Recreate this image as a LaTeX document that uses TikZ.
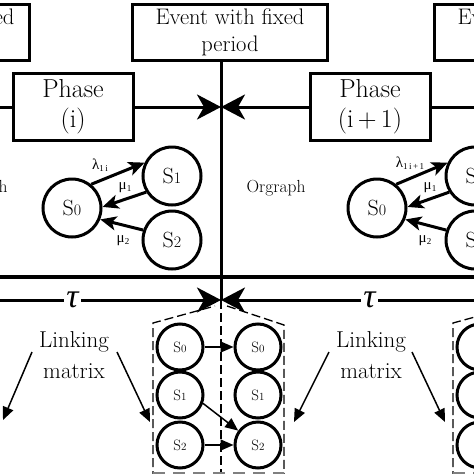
\documentclass[tikz,border=0pt]{standalone}
\usepackage{fontspec}
\newfontfamily\grk{Liberation Serif}
\usetikzlibrary{arrows.meta}
\newcommand\bigSt[1]{S{\fontsize{16}{16}\selectfont #1}}
\newcommand\smSt[1]{S{\fontsize{11}{11}\selectfont #1}}
\newcommand\lowsub[1]{\raisebox{-1.5pt}{\fontsize{9}{9}\selectfont #1}}
\begin{document}
\begin{tikzpicture}[x=1pt,y=-1pt,
  box/.style={draw,line width=3pt,inner sep=0pt,align=center},
  evbox/.style={box,minimum width=195pt,minimum height=56pt,font=\fontsize{22.5}{27}\selectfont},
  phbox/.style={box,minimum width=120pt,minimum height=67pt,font=\fontsize{26}{30}\selectfont},
  bigst/.style={draw,circle,line width=3pt,minimum size=58pt,inner sep=0pt,font=\fontsize{22}{22}\selectfont},
  smst/.style={draw,circle,line width=3pt,minimum size=46pt,inner sep=0pt,font=\fontsize{15}{15}\selectfont},
  garrow/.style={line width=3pt,-{Stealth[length=16pt,width=14pt,inset=4pt]}},
  bigarrow/.style={line width=3pt,-{Stealth[length=24pt,width=25pt,inset=7pt]}},
  thinarrow/.style={line width=1.5pt,-{Triangle[length=13pt,width=11pt]}},
  glabel/.style={inner sep=0pt,font=\grk\fontsize{15}{15}\selectfont},
  orlabel/.style={inner sep=0pt,font=\fontsize{17.5}{17.5}\selectfont},
  lmlabel/.style={inner sep=0pt,align=center,font=\fontsize{23}{31}\selectfont},
  taulabel/.style={fill=white,inner sep=2pt,font=\grk\itshape\fontsize{34}{34}\selectfont},
  mainline/.style={line width=3pt},
  sepline/.style={line width=3.5pt},
  dashbox/.style={line width=1.3pt,dash pattern=on 9pt off 4pt},
  graydash/.style={line width=3pt,gray,dash pattern=on 12pt off 8pt}
]
\useasboundingbox (0,0) rectangle (474,474);
\clip (0,0) rectangle (474,474);

% event boxes
\node[evbox] (evL) at (-68,32) {\hspace*{16pt}Event with fixed\\\hspace*{16pt}period};
\node[evbox] (ev)  at (230,32) {Event with fixed\\period};
\node[evbox] (evR) at (532,32) {Event with fixed\\period};

% phase boxes
\node[phbox] (ph1) at (73,107) {Phase\\(i)};
\node[phbox] (ph2) at (370,107) {Phase\\(i\,+\,1)};

\coordinate (v1) at (221,107);
\coordinate (v2) at (221,300);
\coordinate (vb) at (221,480);
\coordinate (hL) at (-10,107);
\coordinate (hR) at (484,107);

\draw[mainline] (v1 |- ev.south) -- (v2);
\draw[dashbox] (v2) -- (vb);
\draw[mainline] (hL) -- (ph1.west);
\draw[bigarrow] (ph1.east) -- (v1);
\draw[bigarrow] (ph2.west) -- (v1);
\draw[mainline] (ph2.east) -- (hR);

% orgraph labels
\node[orlabel] (orL) at (-22,188) {Orgraph};
\node[orlabel] (orR) at (276,188) {Orgraph};

% left graph
\node[bigst] (S0a) at (72,208) {\bigSt{0}};
\node[bigst] (S1a) at (172,176) {\bigSt{1}};
\node[bigst] (S2a) at (172,240) {\bigSt{2}};
\draw[garrow] (S0a.51) -- (S1a.154);
\draw[garrow] (S1a.212) -- (S0a.2);
\draw[garrow] (S2a.161) -- (S0a.-22);
\node[glabel] (la1) at (100,165) {λ\lowsub{1\,i}};
\node[glabel] (mu1a) at (125,188) {μ\lowsub{1}};
\node[glabel] (mu2a) at (123,241) {μ\lowsub{2}};

% right graph
\node[bigst] (S0b) at (377,208) {\bigSt{0}};
\node[bigst] (S1b) at (475,176) {\bigSt{1}};
\node[bigst] (S2b) at (475,240) {\bigSt{2}};
\draw[garrow] (S0b.51) -- (S1b.154);
\draw[garrow] (S1b.212) -- (S0b.2);
\draw[garrow] (S2b.161) -- (S0b.-22);
\node[glabel] (la2) at (410,163) {λ\lowsub{1\,i\,+\,1}};
\node[glabel] (mu1b) at (430,188) {μ\lowsub{1}};
\node[glabel] (mu2b) at (425,241) {μ\lowsub{2}};

% separator
\coordinate (sL) at (-10,277);
\coordinate (sR) at (484,277);
\draw[sepline] (sL) -- (sR);

% tau line
\coordinate (tL) at (-76,300);
\coordinate (tR) at (518,300);
\draw[bigarrow] (tL) -- node[taulabel] (tau1) {τ} (v2);
\draw[bigarrow] (tR) -- node[taulabel] (tau2) {τ} (v2);

% linking matrix labels
\node[lmlabel] (lm1) at (74,355) {Linking\\matrix};
\node[lmlabel] (lm2) at (371,355) {Linking\\matrix};
\coordinate (a1) at (3,420);
\coordinate (a2) at (150,422);
\coordinate (a3) at (294,422);
\coordinate (a4) at (445,422);
\draw[thinarrow] (32,352) -- (a1);
\draw[thinarrow] (117,352) -- (a2);
\draw[thinarrow] (329,352) -- (a3);
\draw[thinarrow] (412,352) -- (a4);

% linking matrix group (left)
\draw[dashbox] (153,480) -- (153,323) -- (215,306);
\draw[dashbox] (227,306) -- (284,325) -- (284,480);
\draw[graydash] (153,473) -- (284,473);
\node[smst] (L0) at (180,347) {\smSt{0}};
\node[smst] (L1) at (180,395) {\smSt{1}};
\node[smst] (L2) at (180,445) {\smSt{2}};
\node[smst] (R0) at (258,347) {\smSt{0}};
\node[smst] (R1) at (258,395) {\smSt{1}};
\node[smst] (R2) at (258,445) {\smSt{2}};
\draw[thinarrow] (L0.east) -- (R0.west);
\draw[thinarrow] (L1.-20) -- (R2.144);
\draw[thinarrow] (L2.east) -- (R2.west);

% linking matrix group (right, partly visible)
\draw[dashbox] (453,480) -- (453,323) -- (515,306);
\draw[graydash] (453,473) -- (520,473);
\node[smst] (L0b) at (480,347) {};
\node[smst] (L1b) at (480,395) {};
\node[smst] (L2b) at (480,445) {};
\end{tikzpicture}
\end{document}
